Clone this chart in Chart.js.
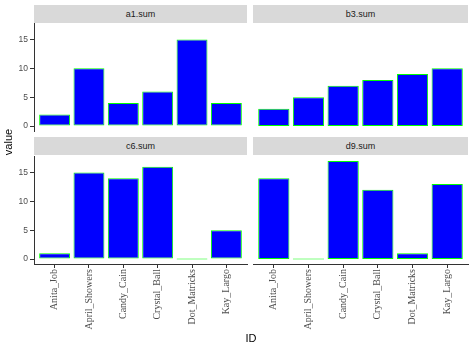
<!DOCTYPE html>
<html>
<head>
<meta charset="utf-8">
<script src="https://cdn.jsdelivr.net/npm/chart.js@4/dist/chart.umd.min.js"></script>
<style>
  body { margin: 0; background: #fff; }
  #wrap { position: relative; width: 474px; height: 348px; overflow: hidden; font-family: "Liberation Sans", Arial, sans-serif; }
  canvas { position: absolute; }
  .strip { position: absolute; height: 18px; background: #d9d9d9; color: #1a1a1a; font-size: 9px; line-height: 18px; text-align: center; }
  .title { position: absolute; color: #000; font-size: 11px; }
</style>
</head>
<body>
<div id="wrap">
  <div class="strip" style="left:34px;top:5px;width:213px">a1.sum</div>
  <div class="strip" style="left:253px;top:5px;width:215px">b3.sum</div>
  <div class="strip" style="left:34px;top:137px;width:213px">c6.sum</div>
  <div class="strip" style="left:253px;top:137px;width:215px">d9.sum</div>
  <canvas id="p1" width="257" height="128" style="left:0;top:13px"></canvas>
  <canvas id="p2" width="231" height="128" style="left:243px;top:13px"></canvas>
  <canvas id="p3" width="257" height="198" style="left:0;top:146px"></canvas>
  <canvas id="p4" width="231" height="198" style="left:243px;top:146px"></canvas>
  <div class="title" style="left:-7px;top:136px;width:30px;text-align:center;transform:rotate(-90deg)">value</div>
  <div class="title" style="left:236px;top:332px;width:30px;text-align:center">ID</div>
</div>
<script>
const ids = ["Anita_Job", "April_Showers", "Candy_Cain", "Crystal_Ball", "Dot_Matricks", "Kay_Largo"];
const a1Sum = [2, 10, 4, 6, 15, 4];
const b3Sum = [3, 5, 7, 8, 9, 10];
const c6Sum = [1, 15, 14, 16, 0, 5];
const d9Sum = [14, 0, 17, 12, 1, 13];
const yTicks = [0, 5, 10, 15];

const blue = "#0000ff";
const green = "#00ff00";
const axisCol = "#333333";
const tickCol = "#4d4d4d";

function makePanel(id, values, showY, showX, pad) {
    const ctx = document.getElementById(id).getContext("2d");
    return new Chart(ctx, {
        type: "bar",
        data: {
            datasets: [{
                data: values.map((v, i) => ({ x: i + 1, y: v })),
                backgroundColor: (c) => (c.raw && c.raw.y === 0 ? green : blue),
                borderColor: green,
                borderWidth: 1,
                borderSkipped: false,
                minBarLength: 1,
                barPercentage: 0.9,
                categoryPercentage: 1,
            }],
        },
        options: {
            responsive: false,
            animation: false,
            devicePixelRatio: 1,
            layout: { padding: pad },
            plugins: { legend: { display: false }, tooltip: { enabled: false } },
            scales: {
                x: {
                    type: "linear",
                    min: 0.4,
                    max: 6.6,
                    offset: false,
                    display: showX,
                    afterBuildTicks: (s) => { s.ticks = ids.map((_, i) => ({ value: i + 1 })); },
                    afterFit: (s) => {
                        if (showX) s.height = 80;
                        s.paddingLeft = 0;
                        s.paddingRight = 0;
                    },
                    grid: { offset: false, drawOnChartArea: false, drawTicks: true, tickLength: 4, color: axisCol },
                    border: { display: true, color: axisCol, width: 1 },
                    ticks: {
                        autoSkip: false,
                        minRotation: 90,
                        maxRotation: 90,
                        padding: 1,
                        color: tickCol,
                        font: { family: "Liberation Serif", size: 10 },
                        callback: (v) => ids[v - 1],
                    },
                },
                y: {
                    min: -0.85,
                    max: 17.85,
                    display: showY,
                    afterBuildTicks: (s) => { s.ticks = yTicks.map((v) => ({ value: v })); },
                    afterFit: (s) => {
                        if (showY) s.width = 34;
                        s.paddingTop = 0;
                        s.paddingBottom = 0;
                    },
                    grid: { drawOnChartArea: false, drawTicks: true, tickLength: 4, color: axisCol },
                    border: { display: true, color: axisCol, width: 1 },
                    ticks: {
                        padding: 2,
                        color: tickCol,
                        font: { family: "Liberation Sans", size: 8.5 },
                    },
                },
            },
        },
    });
}

makePanel("p1", a1Sum, true, false, { top: 10, bottom: 10, left: 0, right: 10 });
makePanel("p2", b3Sum, false, false, { top: 10, bottom: 10, left: 10, right: 6 });
makePanel("p3", c6Sum, true, true, { top: 10, bottom: 0, left: 0, right: 10 });
makePanel("p4", d9Sum, false, true, { top: 10, bottom: 0, left: 10, right: 6 });
</script>
</body>
</html>
